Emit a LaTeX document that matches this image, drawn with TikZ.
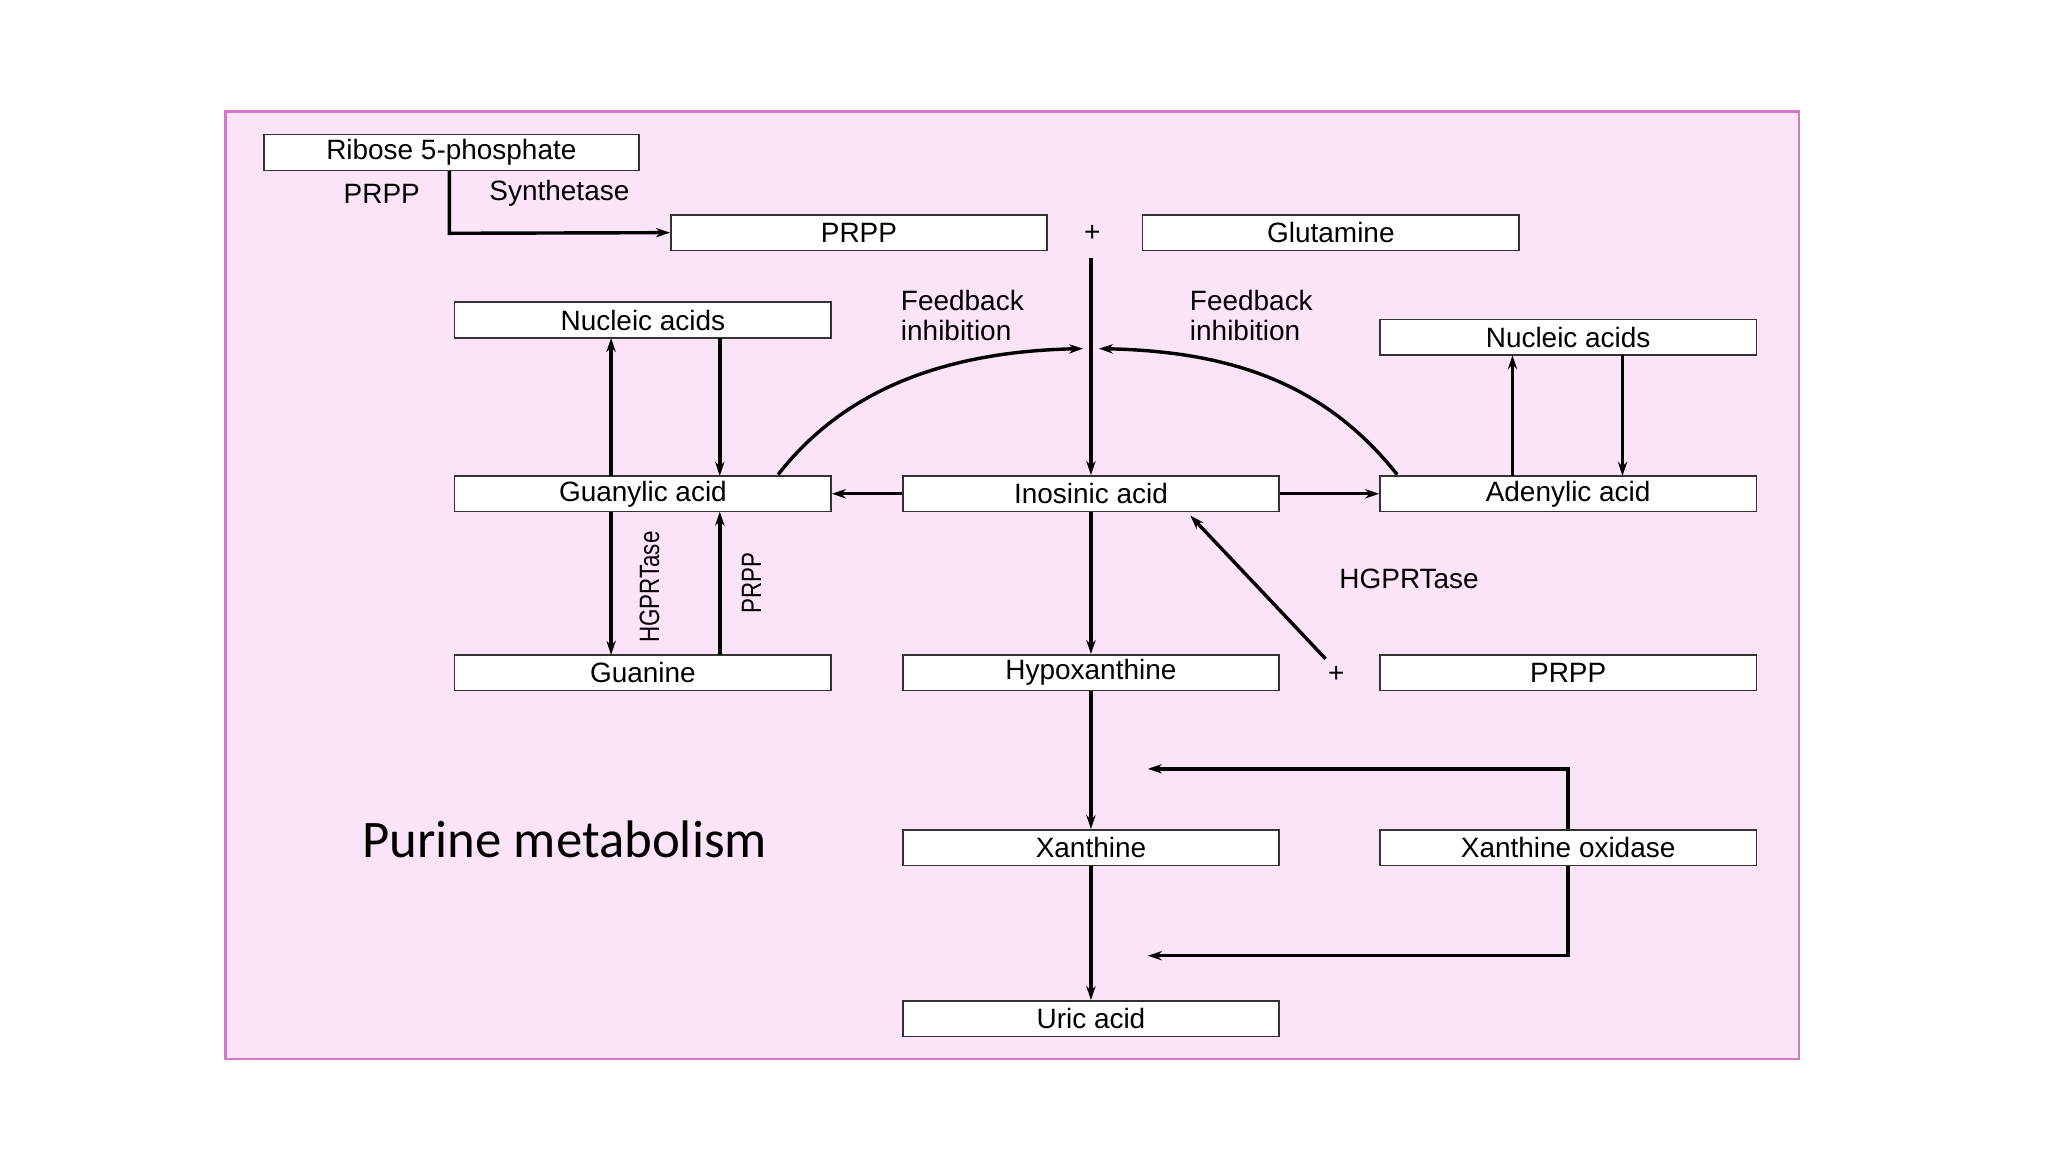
\documentclass[tikz,border=0pt]{standalone}
\usepackage{fontspec}
\setmainfont{Liberation Sans}
\newfontfamily\carlitofont{Carlito}
\usetikzlibrary{arrows.meta}
\begin{document}
\begin{tikzpicture}[x=0.03cm,y=-0.03cm,
 box/.style={draw=black!80,line width=1pt,fill=white,minimum width=284*0.03cm,minimum height=27*0.03cm,inner sep=0pt,font=\fontsize{18}{18}\selectfont},
 lbl/.style={font=\fontsize{18}{19}\selectfont,inner sep=0pt,align=left},
 ar/.style={line width=2.2pt,-{Stealth[length=9pt,width=6pt]}}]
\useasboundingbox (0,0) rectangle (1545,869);
\fill[white] (0,0) rectangle (1545,869);
\draw[fill={rgb,255:red,252;green,228;blue,248},draw={rgb,255:red,214;green,120;blue,200},line width=1.5pt] (170,84) rectangle (1357,799);
\node[box,minimum width=283*0.03cm] (rib) at (340.5,115) {Ribose 5-phosphate};
\node[box] (prpp) at (648,175.5) {PRPP};
\node[box] (glu) at (1004,175.5) {Glutamine};
\node[box] (nl) at (485,241.5) {Nucleic acids};
\node[box] (nr) at (1183,254.5) {Nucleic acids};
\node[box] (gua) at (485,372.5) {Guanylic acid};
\node[box] (ino) at (823,372.5) {Inosinic acid};
\node[box] (ade) at (1183,372.5) {Adenylic acid};
\node[box] (gne) at (485,507.5) {Guanine};
\node[box] (hyp) at (823,507.5) {Hypoxanthine};
\node[box] (prpp2) at (1183,507.5) {PRPP};
\node[box] (xan) at (823,639.5) {Xanthine};
\node[box] (xo) at (1183,639.5) {Xanthine oxidase};
\node[box] (uric) at (823,768.5) {Uric acid};
\node[lbl] (t1) at (288,146) {PRPP};
\node[lbl] (t2) at (422,146) {Synthetase};
\node[lbl] (plus1) at (824,176) {+};
\node[lbl] (plus2) at (1008,509) {+};
\node[lbl,align=left] (fb1) at (726,238) {Feedback\\inhibition};
\node[lbl,align=left] (fb2) at (944,238) {Feedback\\inhibition};
\node[lbl] (hg) at (1063,437) {HGPRTase};
\node[lbl,rotate=90,font=\fontsize{18}{18}\selectfont\addfontfeature{FakeStretch=0.8}] (hg2) at (490,443) {HGPRTase};
\node[lbl,rotate=90,font=\fontsize{18}{18}\selectfont\addfontfeature{FakeStretch=0.8}] (pp2) at (567,440) {PRPP};
\node[font=\carlitofont\fontsize{34}{34}\selectfont,inner sep=0pt] (pm) at (426,633) {Purine metabolism};
\draw[ar] (339,129) -- (339,176) -- (prpp.west);
\draw[ar] (823,195) -- (ino.north);
\draw[ar] (461,359) -- (461,255);
\draw[ar] (543,255) -- (543,359);
\draw[ar] (1141,359) -- (1141,268);
\draw[ar] (1224,268) -- (1224,359);
\draw[ar] (ino.west) -- (gua.east);
\draw[ar] (ino.east) -- (ade.west);
\draw[ar] (587,358) .. controls (640,290) and (720,265) .. (817,263);
\draw[ar] (1054,358) .. controls (1000,290) and (930,265) .. (829,263);
\draw[ar] (461,386) -- (461,494);
\draw[ar] (543,494) -- (543,386);
\draw[ar] (ino.south) -- (hyp.north);
\draw[ar] (1000,497) -- (898,389);
\draw[ar] (hyp.south) -- (xan.north);
\draw[ar] (xan.south) -- (uric.north);
\draw[ar] (xo.north) -- (1183,580) -- (866,580);
\draw[ar] (xo.south) -- (1183,721) -- (866,721);
\end{tikzpicture}
\end{document}
